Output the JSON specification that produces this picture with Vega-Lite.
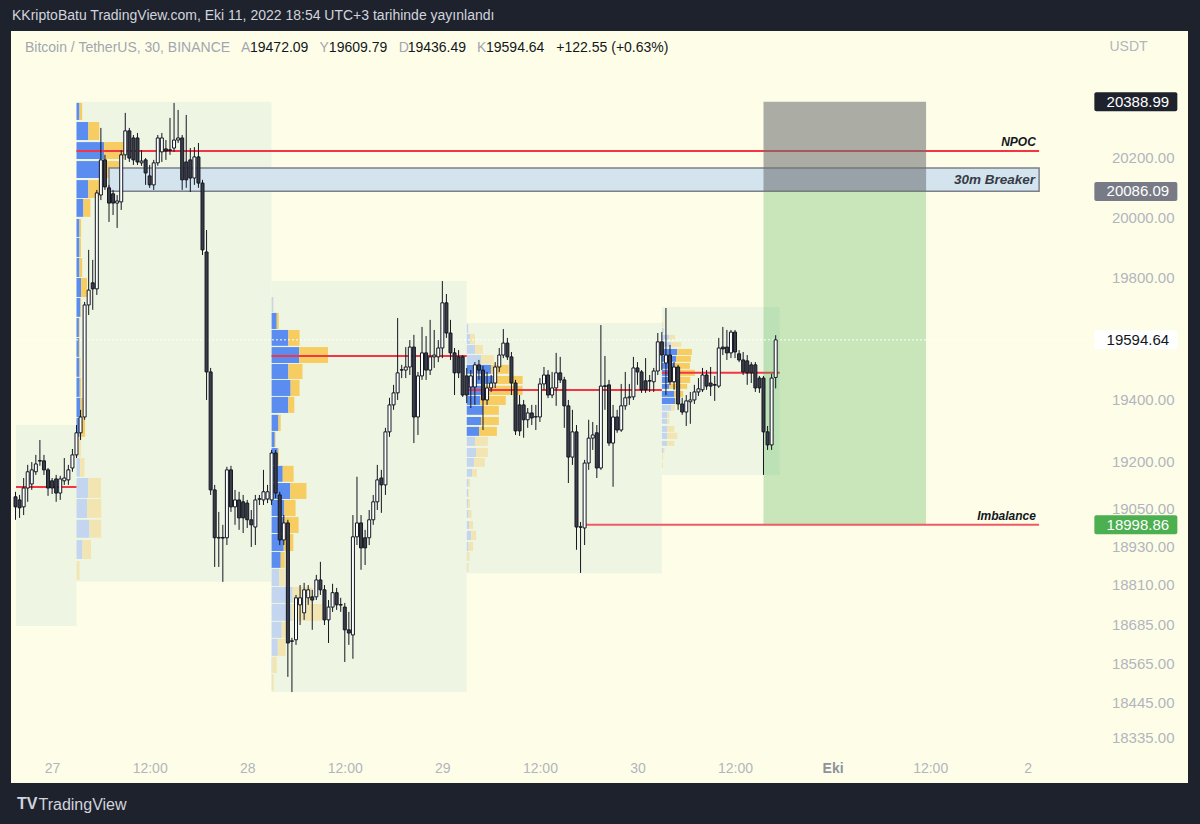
{
"$schema": "https://vega.github.io/schema/vega-lite/v6.json",
"width": 1177, "height": 752,
"autosize": {"type": "none"},
"padding": {"left": 11, "top": 31, "right": 12, "bottom": 41},
"background": "#1e222d",
"title": {"text": "KKriptoBatu TradingView.com, Eki 11, 2022 18:54 UTC+3 tarihinde yayınlandı", "anchor": "start", "frame": "group", "color": "#d1d4dc", "fontSize": 14, "fontWeight": "normal", "font": "Liberation Sans", "offset": 8, "dx": 1},
"config": {"view": {"fill": "#fefee8", "stroke": null}, "font": "Liberation Sans", "axis": {"grid": false, "domain": false, "ticks": false}},
"datasets": {
"sessions": [
{"t":-4.44,"t2":3,"p":18681,"p2":19318},
{"t":3,"t2":27,"p":18819,"p2":20389},
{"t":27,"t2":51,"p":18476,"p2":19788},
{"t":51,"t2":75,"p":18845,"p2":19650},
{"t":75,"t2":89.5,"p":19158,"p2":19702}],
"profile": [
{"s":3,"p":20385,"p2":20327,"b":3.37,"e":3.70,"va":1},
{"s":3,"p":20320,"p2":20259,"b":4.46,"e":5.80,"va":1},
{"s":3,"p":20252,"p2":20195,"b":6.41,"e":8.85,"va":1},
{"s":3,"p":20188,"p2":20131,"b":5.80,"e":8.24,"va":1},
{"s":3,"p":20124,"p2":20064,"b":4.46,"e":5.80,"va":1},
{"s":3,"p":20061,"p2":20001,"b":3.85,"e":4.71,"va":1},
{"s":3,"p":19994,"p2":19934,"b":3.37,"e":3.57,"va":1},
{"s":3,"p":19931,"p2":19867,"b":3.37,"e":3.55,"va":1},
{"s":3,"p":19864,"p2":19801,"b":3.37,"e":3.70,"va":1},
{"s":3,"p":19798,"p2":19735,"b":3.57,"e":4.30,"va":1},
{"s":3,"p":19732,"p2":19670,"b":3.49,"e":3.57,"va":1},
{"s":3,"p":19666,"p2":19604,"b":3.30,"e":3.39,"va":1},
{"s":3,"p":19601,"p2":19539,"b":3.30,"e":3.40,"va":1},
{"s":3,"p":19536,"p2":19474,"b":3.37,"e":3.49,"va":1},
{"s":3,"p":19471,"p2":19409,"b":3.40,"e":3.57,"va":1},
{"s":3,"p":19406,"p2":19344,"b":3.49,"e":3.77,"va":1},
{"s":3,"p":19341,"p2":19280,"b":3.37,"e":4.06,"va":1},
{"s":3,"p":19277,"p2":19215,"b":3.16,"e":3.57,"va":0},
{"s":3,"p":19212,"p2":19152,"b":3.45,"e":3.98,"va":0},
{"s":3,"p":19148,"p2":19084,"b":4.46,"e":6.01,"va":0},
{"s":3,"p":19081,"p2":19021,"b":4.30,"e":6.05,"va":0},
{"s":3,"p":19015,"p2":18958,"b":4.59,"e":6.05,"va":0},
{"s":3,"p":18951,"p2":18891,"b":3.73,"e":4.79,"va":0},
{"s":3,"p":18885,"p2":18825,"b":3.0,"e":3.37,"va":0},
{"s":27,"p":19735,"p2":19686,"b":27.21,"e":27.26,"va":0},
{"s":27,"p":19683,"p2":19630,"b":27.63,"e":27.88,"va":1},
{"s":27,"p":19627,"p2":19575,"b":29.06,"e":30.44,"va":1},
{"s":27,"p":19571,"p2":19519,"b":30.40,"e":33.94,"va":1},
{"s":27,"p":19516,"p2":19467,"b":29.06,"e":30.80,"va":1},
{"s":27,"p":19464,"p2":19412,"b":29.34,"e":30.44,"va":1},
{"s":27,"p":19409,"p2":19357,"b":29.06,"e":29.79,"va":1},
{"s":27,"p":19351,"p2":19299,"b":27.84,"e":28.12,"va":1},
{"s":27,"p":19296,"p2":19247,"b":27.39,"e":27.48,"va":1},
{"s":27,"p":19244,"p2":19190,"b":27.76,"e":27.88,"va":1},
{"s":27,"p":19187,"p2":19136,"b":28.37,"e":29.71,"va":1},
{"s":27,"p":19132,"p2":19081,"b":29.30,"e":31.29,"va":1},
{"s":27,"p":19078,"p2":19027,"b":28.57,"e":29.95,"va":1},
{"s":27,"p":19024,"p2":18973,"b":28.57,"e":30.32,"va":1},
{"s":27,"p":18970,"p2":18916,"b":28.49,"e":29.67,"va":1},
{"s":27,"p":18913,"p2":18863,"b":28.12,"e":28.61,"va":1},
{"s":27,"p":18860,"p2":18806,"b":27.96,"e":28.61,"va":0},
{"s":27,"p":18803,"p2":18753,"b":29.59,"e":32.02,"va":0},
{"s":27,"p":18750,"p2":18697,"b":29.46,"e":33.24,"va":0},
{"s":27,"p":18694,"p2":18644,"b":28.24,"e":29.06,"va":0},
{"s":27,"p":18641,"p2":18588,"b":27.76,"e":28.73,"va":0},
{"s":27,"p":18585,"p2":18535,"b":27.09,"e":27.63,"va":0},
{"s":27,"p":18532,"p2":18480,"b":27.02,"e":27.26,"va":0},
{"s":51,"p":19647,"p2":19617,"b":51.17,"e":51.2,"va":0},
{"s":51,"p":19614,"p2":19581,"b":51.41,"e":52.02,"va":0},
{"s":51,"p":19578,"p2":19549,"b":52.02,"e":52.99,"va":0},
{"s":51,"p":19545,"p2":19516,"b":52.76,"e":54.34,"va":0},
{"s":51,"p":19513,"p2":19484,"b":53.98,"e":56.17,"va":1},
{"s":51,"p":19477,"p2":19451,"b":54.22,"e":57.88,"va":1},
{"s":51,"p":19445,"p2":19415,"b":52.99,"e":57.88,"va":1},
{"s":51,"p":19412,"p2":19383,"b":52.63,"e":55.80,"va":1},
{"s":51,"p":19380,"p2":19351,"b":52.99,"e":54.95,"va":1},
{"s":51,"p":19344,"p2":19318,"b":52.76,"e":54.95,"va":1},
{"s":51,"p":19312,"p2":19283,"b":52.51,"e":54.71,"va":1},
{"s":51,"p":19280,"p2":19251,"b":52.02,"e":53.60,"va":0},
{"s":51,"p":19244,"p2":19215,"b":52.15,"e":53.60,"va":0},
{"s":51,"p":19212,"p2":19184,"b":51.90,"e":53.24,"va":0},
{"s":51,"p":19177,"p2":19152,"b":51.66,"e":52.27,"va":0},
{"s":51,"p":19145,"p2":19120,"b":51.23,"e":51.41,"va":0},
{"s":51,"p":19113,"p2":19088,"b":51.17,"e":51.29,"va":0},
{"s":51,"p":19081,"p2":19053,"b":51.17,"e":51.41,"va":0},
{"s":51,"p":19046,"p2":19021,"b":51.23,"e":51.60,"va":0},
{"s":51,"p":19011,"p2":18986,"b":51.29,"e":51.78,"va":0},
{"s":51,"p":18980,"p2":18951,"b":51.54,"e":52.15,"va":0},
{"s":51,"p":18945,"p2":18916,"b":51.23,"e":51.78,"va":0},
{"s":51,"p":18913,"p2":18885,"b":51.05,"e":51.35,"va":0},
{"s":51,"p":18879,"p2":18850,"b":51.05,"e":51.23,"va":0},
{"s":75,"p":19653,"p2":19637,"b":75.01,"e":75.2,"va":0},
{"s":75,"p":19634,"p2":19617,"b":75.23,"e":75.25,"va":0},
{"s":75,"p":19611,"p2":19594,"b":75.93,"e":76.62,"va":0},
{"s":75,"p":19588,"p2":19571,"b":76.17,"e":77.39,"va":0},
{"s":75,"p":19565,"p2":19545,"b":76.90,"e":78.70,"va":1},
{"s":75,"p":19542,"p2":19523,"b":76.74,"e":78.57,"va":1},
{"s":75,"p":19519,"p2":19500,"b":76.54,"e":78.45,"va":1},
{"s":75,"p":19497,"p2":19477,"b":76.29,"e":79.06,"va":1},
{"s":75,"p":19474,"p2":19454,"b":75.93,"e":78.49,"va":1},
{"s":75,"p":19451,"p2":19435,"b":75.93,"e":78.12,"va":1},
{"s":75,"p":19428,"p2":19409,"b":76.54,"e":77.63,"va":1},
{"s":75,"p":19406,"p2":19386,"b":76.62,"e":76.90,"va":1},
{"s":75,"p":19383,"p2":19364,"b":76.17,"e":76.62,"va":0},
{"s":75,"p":19360,"p2":19341,"b":75.68,"e":75.93,"va":0},
{"s":75,"p":19338,"p2":19322,"b":75.65,"e":75.93,"va":0},
{"s":75,"p":19315,"p2":19296,"b":75.68,"e":76.54,"va":0},
{"s":75,"p":19293,"p2":19273,"b":75.68,"e":76.90,"va":0},
{"s":75,"p":19267,"p2":19251,"b":75.65,"e":76.54,"va":0},
{"s":75,"p":19244,"p2":19228,"b":75.20,"e":75.32,"va":0},
{"s":75,"p":19225,"p2":19206,"b":75.0,"e":75.16,"va":0},
{"s":75,"p":19199,"p2":19180,"b":75.0,"e":75.13,"va":0}],
"lines": [
{"t":-4.44,"t2":3,"p":19119.5,"k":"poc"},
{"t":3,"t2":121.4,"p":20222,"k":"poc"},
{"t":27,"t2":51,"p":19542,"k":"poc"},
{"t":51,"t2":75,"p":19431.5,"k":"poc"},
{"t":75,"t2":89.5,"p":19487,"k":"poc"},
{"t":65.3,"t2":121.4,"p":18999,"k":"imb"}],
"breaker": [{"t":7.0,"t2":121.4,"p":20087,"p2":20165}],
"position": [
{"t":87.5,"t2":107.5,"p":20086.09,"p2":20388.99,"k":"stop"},
{"t":87.5,"t2":107.5,"p":18998.86,"p2":20086.09,"k":"target"}],
"lastprice": [{"t":-4.44,"t2":127.3,"p":19594.64}],
"candles": [
{"t":-4.5,"o":19088,"h":19104,"l":19015,"c":19056},
{"t":-4.0,"o":19078,"h":19094,"l":19021,"c":19053},
{"t":-3.5,"o":19056,"h":19148,"l":19030,"c":19116},
{"t":-3.0,"o":19116,"h":19190,"l":19072,"c":19168},
{"t":-2.5,"o":19129,"h":19199,"l":19110,"c":19174},
{"t":-2.0,"o":19168,"h":19222,"l":19158,"c":19193},
{"t":-1.5,"o":19202,"h":19270,"l":19187,"c":19204},
{"t":-1.0,"o":19203,"h":19222,"l":19158,"c":19174},
{"t":-0.5,"o":19174,"h":19180,"l":19091,"c":19116},
{"t":0.0,"o":19139,"h":19148,"l":19097,"c":19116},
{"t":0.5,"o":19145,"h":19158,"l":19072,"c":19100},
{"t":1.0,"o":19100,"h":19155,"l":19078,"c":19145},
{"t":1.5,"o":19139,"h":19212,"l":19126,"c":19148},
{"t":2.0,"o":19142,"h":19190,"l":19126,"c":19174},
{"t":2.5,"o":19180,"h":19241,"l":19168,"c":19222},
{"t":3.0,"o":19222,"h":19318,"l":19212,"c":19293},
{"t":3.5,"o":19293,"h":19367,"l":19270,"c":19344},
{"t":4.0,"o":19344,"h":19719,"l":19335,"c":19709},
{"t":4.5,"o":19709,"h":19891,"l":19676,"c":19758},
{"t":5.0,"o":19782,"h":19858,"l":19693,"c":19762},
{"t":5.5,"o":19762,"h":20091,"l":19742,"c":20081},
{"t":6.0,"o":20074,"h":20300,"l":20057,"c":20192},
{"t":6.5,"o":20192,"h":20209,"l":20091,"c":20101},
{"t":7.0,"o":20098,"h":20108,"l":19984,"c":20047},
{"t":7.5,"o":20078,"h":20091,"l":20007,"c":20047},
{"t":8.0,"o":20047,"h":20074,"l":19964,"c":20054},
{"t":8.5,"o":20051,"h":20225,"l":20024,"c":20209},
{"t":9.0,"o":20209,"h":20351,"l":20192,"c":20290},
{"t":9.5,"o":20290,"h":20300,"l":20185,"c":20198},
{"t":10.0,"o":20266,"h":20276,"l":20175,"c":20192},
{"t":10.5,"o":20266,"h":20283,"l":20175,"c":20185},
{"t":11.0,"o":20182,"h":20225,"l":20172,"c":20188},
{"t":11.5,"o":20192,"h":20198,"l":20108,"c":20148},
{"t":12.0,"o":20138,"h":20175,"l":20098,"c":20108},
{"t":12.5,"o":20108,"h":20192,"l":20091,"c":20182},
{"t":13.0,"o":20182,"h":20276,"l":20172,"c":20266},
{"t":13.5,"o":20219,"h":20283,"l":20185,"c":20266},
{"t":14.0,"o":20229,"h":20259,"l":20192,"c":20222},
{"t":14.5,"o":20226,"h":20334,"l":20209,"c":20224},
{"t":15.0,"o":20232,"h":20385,"l":20219,"c":20259},
{"t":15.5,"o":20259,"h":20361,"l":20249,"c":20266},
{"t":16.0,"o":20266,"h":20276,"l":20091,"c":20125},
{"t":16.5,"o":20185,"h":20344,"l":20098,"c":20125},
{"t":17.0,"o":20192,"h":20232,"l":20084,"c":20131},
{"t":17.5,"o":20131,"h":20235,"l":20108,"c":20202},
{"t":18.0,"o":20202,"h":20249,"l":20098,"c":20114},
{"t":18.5,"o":20114,"h":20125,"l":19874,"c":19891},
{"t":19.0,"o":19884,"h":19957,"l":19399,"c":19490},
{"t":19.5,"o":19490,"h":19503,"l":19094,"c":19110},
{"t":20.0,"o":19110,"h":19126,"l":18866,"c":18958},
{"t":20.5,"o":18957,"h":19040,"l":18866,"c":18959},
{"t":21.0,"o":18959,"h":18999,"l":18819,"c":18957},
{"t":21.5,"o":18958,"h":19184,"l":18935,"c":19174},
{"t":22.0,"o":19174,"h":19187,"l":19040,"c":19056},
{"t":22.5,"o":19056,"h":19110,"l":18999,"c":19078},
{"t":23.0,"o":19078,"h":19104,"l":18983,"c":19021},
{"t":23.5,"o":19072,"h":19094,"l":18973,"c":19021},
{"t":24.0,"o":19068,"h":19078,"l":18989,"c":19015},
{"t":24.5,"o":19015,"h":19046,"l":18929,"c":18999},
{"t":25.0,"o":18992,"h":19094,"l":18935,"c":19078},
{"t":25.5,"o":19080,"h":19094,"l":19062,"c":19082},
{"t":26.0,"o":19078,"h":19174,"l":19062,"c":19104},
{"t":26.5,"o":19081,"h":19126,"l":19068,"c":19104},
{"t":27.0,"o":19078,"h":19238,"l":19062,"c":19228},
{"t":27.5,"o":19228,"h":19238,"l":19084,"c":19100},
{"t":28.0,"o":19094,"h":19104,"l":18935,"c":18951},
{"t":28.5,"o":18951,"h":19030,"l":18935,"c":19005},
{"t":29.0,"o":19005,"h":19015,"l":18523,"c":18628},
{"t":29.5,"o":18633,"h":18644,"l":18476,"c":18635},
{"t":30.0,"o":18638,"h":18778,"l":18622,"c":18769},
{"t":30.5,"o":18747,"h":18809,"l":18684,"c":18769},
{"t":31.0,"o":18722,"h":18816,"l":18700,"c":18794},
{"t":31.5,"o":18769,"h":18809,"l":18747,"c":18794},
{"t":32.0,"o":18772,"h":18794,"l":18669,"c":18762},
{"t":32.5,"o":18772,"h":18841,"l":18762,"c":18825},
{"t":33.0,"o":18825,"h":18882,"l":18778,"c":18794},
{"t":33.5,"o":18794,"h":18809,"l":18684,"c":18700},
{"t":34.0,"o":18700,"h":18762,"l":18628,"c":18740},
{"t":34.5,"o":18740,"h":18813,"l":18725,"c":18785},
{"t":35.0,"o":18785,"h":18800,"l":18731,"c":18747},
{"t":35.5,"o":18746,"h":18769,"l":18725,"c":18748},
{"t":36.0,"o":18740,"h":18753,"l":18569,"c":18669},
{"t":36.5,"o":18669,"h":18725,"l":18622,"c":18659},
{"t":37.0,"o":18653,"h":19030,"l":18579,"c":18961},
{"t":37.5,"o":18961,"h":19152,"l":18935,"c":19005},
{"t":38.0,"o":19005,"h":19030,"l":18857,"c":18926},
{"t":38.5,"o":18958,"h":18983,"l":18872,"c":18926},
{"t":39.0,"o":18958,"h":19046,"l":18935,"c":19015},
{"t":39.5,"o":19015,"h":19094,"l":18999,"c":19072},
{"t":40.0,"o":19072,"h":19190,"l":19046,"c":19142},
{"t":40.5,"o":19148,"h":19174,"l":19037,"c":19126},
{"t":41.0,"o":19126,"h":19309,"l":19094,"c":19296},
{"t":41.5,"o":19296,"h":19406,"l":19280,"c":19383},
{"t":42.0,"o":19383,"h":19448,"l":19367,"c":19422},
{"t":42.5,"o":19422,"h":19666,"l":19399,"c":19487},
{"t":43.0,"o":19497,"h":19513,"l":19470,"c":19496},
{"t":43.5,"o":19496,"h":19571,"l":19470,"c":19506},
{"t":44.0,"o":19506,"h":19594,"l":19480,"c":19571},
{"t":44.5,"o":19571,"h":19611,"l":19260,"c":19344},
{"t":45.0,"o":19344,"h":19490,"l":19286,"c":19477},
{"t":45.5,"o":19477,"h":19637,"l":19464,"c":19552},
{"t":46.0,"o":19552,"h":19607,"l":19464,"c":19496},
{"t":46.5,"o":19496,"h":19660,"l":19480,"c":19539},
{"t":47.0,"o":19539,"h":19627,"l":19503,"c":19545},
{"t":47.5,"o":19539,"h":19594,"l":19522,"c":19568},
{"t":48.0,"o":19568,"h":19788,"l":19535,"c":19716},
{"t":48.5,"o":19716,"h":19745,"l":19601,"c":19617},
{"t":49.0,"o":19617,"h":19660,"l":19529,"c":19552},
{"t":49.5,"o":19552,"h":19568,"l":19415,"c":19487},
{"t":50.0,"o":19539,"h":19561,"l":19470,"c":19487},
{"t":50.5,"o":19539,"h":19545,"l":19409,"c":19415},
{"t":51.0,"o":19477,"h":19503,"l":19389,"c":19415},
{"t":51.5,"o":19441,"h":19496,"l":19373,"c":19477},
{"t":52.0,"o":19441,"h":19522,"l":19383,"c":19513},
{"t":52.5,"o":19513,"h":19529,"l":19464,"c":19496},
{"t":53.0,"o":19496,"h":19510,"l":19302,"c":19399},
{"t":53.5,"o":19399,"h":19490,"l":19383,"c":19438},
{"t":54.0,"o":19438,"h":19480,"l":19425,"c":19454},
{"t":54.5,"o":19454,"h":19522,"l":19438,"c":19506},
{"t":55.0,"o":19506,"h":19568,"l":19490,"c":19545},
{"t":55.5,"o":19545,"h":19630,"l":19535,"c":19584},
{"t":56.0,"o":19584,"h":19601,"l":19529,"c":19539},
{"t":56.5,"o":19539,"h":19555,"l":19415,"c":19454},
{"t":57.0,"o":19454,"h":19464,"l":19286,"c":19299},
{"t":57.5,"o":19383,"h":19415,"l":19283,"c":19299},
{"t":58.0,"o":19383,"h":19399,"l":19277,"c":19335},
{"t":58.5,"o":19335,"h":19373,"l":19309,"c":19357},
{"t":59.0,"o":19357,"h":19383,"l":19318,"c":19341},
{"t":59.5,"o":19344,"h":19383,"l":19302,"c":19345},
{"t":60.0,"o":19344,"h":19470,"l":19328,"c":19451},
{"t":60.5,"o":19451,"h":19506,"l":19432,"c":19480},
{"t":61.0,"o":19480,"h":19496,"l":19405,"c":19415},
{"t":61.5,"o":19415,"h":19490,"l":19405,"c":19438},
{"t":62.0,"o":19438,"h":19552,"l":19380,"c":19487},
{"t":62.5,"o":19487,"h":19539,"l":19454,"c":19464},
{"t":63.0,"o":19464,"h":19474,"l":19309,"c":19380},
{"t":63.5,"o":19380,"h":19399,"l":19132,"c":19215},
{"t":64.0,"o":19215,"h":19367,"l":19190,"c":19296},
{"t":64.5,"o":19296,"h":19318,"l":18920,"c":18992},
{"t":65.0,"o":18991,"h":19008,"l":18847,"c":18993},
{"t":65.5,"o":18989,"h":19206,"l":18935,"c":19196},
{"t":66.0,"o":19196,"h":19335,"l":19174,"c":19276},
{"t":66.5,"o":19276,"h":19328,"l":19238,"c":19286},
{"t":67.0,"o":19293,"h":19318,"l":19148,"c":19180},
{"t":67.5,"o":19180,"h":19643,"l":19174,"c":19444},
{"t":68.0,"o":19445,"h":19542,"l":19367,"c":19443},
{"t":68.5,"o":19448,"h":19464,"l":19251,"c":19260},
{"t":69.0,"o":19260,"h":19383,"l":19120,"c":19344},
{"t":69.5,"o":19344,"h":19367,"l":19293,"c":19302},
{"t":70.0,"o":19302,"h":19451,"l":19296,"c":19380},
{"t":70.5,"o":19380,"h":19490,"l":19367,"c":19406},
{"t":71.0,"o":19406,"h":19451,"l":19383,"c":19409},
{"t":71.5,"o":19409,"h":19539,"l":19399,"c":19503},
{"t":72.0,"o":19503,"h":19522,"l":19448,"c":19490},
{"t":72.5,"o":19490,"h":19496,"l":19422,"c":19432},
{"t":73.0,"o":19461,"h":19535,"l":19422,"c":19432},
{"t":73.5,"o":19460,"h":19480,"l":19425,"c":19462},
{"t":74.0,"o":19458,"h":19503,"l":19425,"c":19493},
{"t":74.5,"o":19493,"h":19617,"l":19480,"c":19588},
{"t":75.0,"o":19588,"h":19620,"l":19496,"c":19545},
{"t":75.5,"o":19519,"h":19699,"l":19415,"c":19545},
{"t":76.0,"o":19545,"h":19578,"l":19448,"c":19458},
{"t":76.5,"o":19458,"h":19522,"l":19432,"c":19506},
{"t":77.0,"o":19506,"h":19513,"l":19367,"c":19386},
{"t":77.5,"o":19386,"h":19406,"l":19351,"c":19360},
{"t":78.0,"o":19360,"h":19415,"l":19315,"c":19396},
{"t":78.5,"o":19393,"h":19425,"l":19322,"c":19399},
{"t":79.0,"o":19399,"h":19448,"l":19386,"c":19425},
{"t":79.5,"o":19425,"h":19470,"l":19412,"c":19435},
{"t":80.0,"o":19432,"h":19503,"l":19425,"c":19480},
{"t":80.5,"o":19480,"h":19496,"l":19432,"c":19444},
{"t":81.0,"o":19454,"h":19506,"l":19412,"c":19444},
{"t":81.5,"o":19449,"h":19477,"l":19396,"c":19447},
{"t":82.0,"o":19444,"h":19601,"l":19438,"c":19568},
{"t":82.5,"o":19571,"h":19637,"l":19545,"c":19565},
{"t":83.0,"o":19571,"h":19627,"l":19529,"c":19552},
{"t":83.5,"o":19552,"h":19627,"l":19535,"c":19620},
{"t":84.0,"o":19620,"h":19627,"l":19535,"c":19555},
{"t":84.5,"o":19549,"h":19561,"l":19522,"c":19529},
{"t":85.0,"o":19529,"h":19555,"l":19480,"c":19490},
{"t":85.5,"o":19526,"h":19545,"l":19448,"c":19487},
{"t":86.0,"o":19513,"h":19522,"l":19454,"c":19487},
{"t":86.5,"o":19513,"h":19522,"l":19425,"c":19438},
{"t":87.0,"o":19470,"h":19477,"l":19422,"c":19438},
{"t":87.5,"o":19470,"h":19477,"l":19158,"c":19296},
{"t":88.0,"o":19296,"h":19315,"l":19238,"c":19254},
{"t":88.5,"o":19254,"h":19484,"l":19238,"c":19470},
{"t":89.0,"o":19472.09,"h":19609.79,"l":19436.49,"c":19594.64}],
"labels": [
{"t":121.0,"p":20252,"txt":"NPOC","k":"npoc"},
{"t":120.9,"p":20124.5,"txt":"30m Breaker","k":"breaker"},
{"t":121.0,"p":19027,"txt":"Imbalance","k":"imb"}],
"header": [
{"t":-3.34,"p":20572,"txt":"Bitcoin / TetherUS, 30, BINANCE","k":"g"},
{"t":23.24,"p":20572,"txt":"A","k":"g"},
{"t":24.34,"p":20572,"txt":"19472.09","k":"v"},
{"t":32.88,"p":20572,"txt":"Y","k":"g"},
{"t":34.04,"p":20572,"txt":"19609.79","k":"v"},
{"t":42.63,"p":20572,"txt":"D","k":"g"},
{"t":43.73,"p":20572,"txt":"19436.49","k":"v"},
{"t":52.27,"p":20572,"txt":"K","k":"g"},
{"t":53.37,"p":20572,"txt":"19594.64","k":"v"},
{"t":62.02,"p":20572,"txt":"+122.55 (+0.63%)","k":"v"}],
"logo": [{"t":-4.33,"p":18134,"txt":"TV"}],
"badges": [
{"t":133.3,"p":20388.99,"txt":"20388.99","k":"stop"},
{"t":133.3,"p":20086.09,"txt":"20086.09","k":"entry"},
{"t":133.3,"p":19594.64,"txt":"19594.64","k":"last"},
{"t":133.3,"p":18998.86,"txt":"18998.86","k":"target"}]
},
"layer": [
{"data": {"name": "sessions"}, "mark": {"type": "rect", "color": "#eef6e3"},
 "encoding": {
  "x": {"field": "t", "type": "quantitative", "scale": {"domain": [-4.44, 139.1], "nice": false, "zero": false},
   "axis": {"orient": "bottom", "offset": -15, "zindex": 1, "values": [0,12,24,36,48,60,72,84,96,108,120],
    "labelExpr": "datum.value == 96 ? 'Eki' : datum.value == 120 ? '2' : datum.value % 24 == 12 ? '12:00' : '' + (27 + datum.value / 24)",
    "domain": false, "ticks": false, "grid": false, "labelPadding": 0, "labelBaseline": "middle", "labelFlush": false, "labelOverlap": false,
    "labelColor": {"condition": {"test": "datum.value == 96", "value": "#8f929c"}, "value": "#b2b5be"},
    "labelFontWeight": {"condition": {"test": "datum.value == 96", "value": "bold"}, "value": "normal"},
    "labelFontSize": 14, "labelFont": "Liberation Sans",
    "title": "TradingView", "titleX": 27, "titleY": 36, "titleAlign": "left", "titleAnchor": "start", "titleBaseline": "middle",
    "titleColor": "#d1d4dc", "titleFontSize": 16, "titleFontWeight": "normal", "titleFont": "Liberation Sans"}},
  "x2": {"field": "t2"},
  "y": {"field": "p", "type": "quantitative", "scale": {"type": "log", "domain": [18197.8, 20631], "nice": false, "zero": false},
   "axis": {"orient": "right", "offset": -14, "zindex": 1, "values": [20200,20000,19800,19400,19200,19050,18930,18810,18685,18565,18445,18335],
    "format": ".2f", "labelAlign": "right", "labelPadding": 0, "labelBaseline": "middle", "domain": false, "ticks": false, "grid": false,
    "labelColor": "#b2b5be", "labelFontSize": 15, "labelFont": "Liberation Sans", "labelFlush": false, "labelOverlap": false,
    "title": "USDT", "titleAngle": 0, "titleX": -46, "titleY": 15, "titleAlign": "center", "titleBaseline": "middle",
    "titleColor": "#b2b5be", "titleFontSize": 14, "titleFontWeight": "normal", "titleFont": "Liberation Sans"}},
  "y2": {"field": "p2"}}},
{"data": {"name": "profile"}, "mark": {"type": "rect"},
 "encoding": {
  "x": {"field": "s", "type": "quantitative"}, "x2": {"field": "b"},
  "y": {"field": "p", "type": "quantitative"}, "y2": {"field": "p2"},
  "color": {"condition": {"test": "datum.va == 1", "value": "#5b8cf0"}, "value": "#c3d5ef"}}},
{"data": {"name": "profile"}, "mark": {"type": "rect"},
 "encoding": {
  "x": {"field": "b", "type": "quantitative"}, "x2": {"field": "e"},
  "y": {"field": "p", "type": "quantitative"}, "y2": {"field": "p2"},
  "color": {"condition": {"test": "datum.va == 1", "value": "#f7cd62"}, "value": "#f2e5b2"}}},
{"data": {"name": "lines"}, "transform": [{"filter": "datum.k == 'poc'"}], "mark": {"type": "rule", "color": "#f23645", "strokeWidth": 2},
 "encoding": {"x": {"field": "t", "type": "quantitative"}, "x2": {"field": "t2"}, "y": {"field": "p", "type": "quantitative"}}},
{"data": {"name": "breaker"}, "mark": {"type": "rect", "fill": "#d3e4ee", "stroke": "#7c7f88", "strokeWidth": 1.5},
 "encoding": {"x": {"field": "t", "type": "quantitative"}, "x2": {"field": "t2"}, "y": {"field": "p", "type": "quantitative"}, "y2": {"field": "p2"}}},
{"data": {"name": "position"}, "mark": {"type": "rect"},
 "encoding": {"x": {"field": "t", "type": "quantitative"}, "x2": {"field": "t2"}, "y": {"field": "p", "type": "quantitative"}, "y2": {"field": "p2"},
  "color": {"condition": {"test": "datum.k == 'stop'", "value": "#6f7175"}, "value": "#4caf50"},
  "opacity": {"condition": {"test": "datum.k == 'stop'", "value": 0.58}, "value": 0.3}}},
{"data": {"name": "lines"}, "transform": [{"filter": "datum.k == 'imb'"}], "mark": {"type": "rule", "color": "#f05a64", "strokeWidth": 2},
 "encoding": {"x": {"field": "t", "type": "quantitative"}, "x2": {"field": "t2"}, "y": {"field": "p", "type": "quantitative"}}},
{"data": {"name": "lastprice"}, "mark": {"type": "rule", "color": "#ffffff", "strokeWidth": 1, "strokeDash": [2, 2]},
 "encoding": {"x": {"field": "t", "type": "quantitative"}, "x2": {"field": "t2"}, "y": {"field": "p", "type": "quantitative"}}},
{"data": {"name": "candles"}, "mark": {"type": "rule", "color": "#131722", "strokeWidth": 1, "clip": true},
 "encoding": {"x": {"field": "t", "type": "quantitative"}, "y": {"field": "l", "type": "quantitative"}, "y2": {"field": "h"}}},
{"data": {"name": "candles"}, "mark": {"type": "bar", "size": 3, "stroke": "#131722", "strokeWidth": 1, "clip": true},
 "encoding": {"x": {"field": "t", "type": "quantitative"}, "y": {"field": "o", "type": "quantitative"}, "y2": {"field": "c"},
  "color": {"condition": {"test": "datum.c >= datum.o", "value": "#ffffff"}, "value": "#3a3d47"}}},
{"data": {"name": "labels"}, "mark": {"type": "text", "align": "right", "baseline": "middle", "fontStyle": "italic", "fontWeight": "bold", "font": "Liberation Sans"},
 "encoding": {"x": {"field": "t", "type": "quantitative"}, "y": {"field": "p", "type": "quantitative"}, "text": {"field": "txt"},
  "color": {"condition": {"test": "datum.k == 'breaker'", "value": "#363a45"}, "value": "#131722"},
  "size": {"condition": {"test": "datum.k == 'breaker'", "value": 13.5}, "value": 12}}},
{"data": {"name": "header"}, "mark": {"type": "text", "align": "left", "baseline": "middle", "fontSize": 14, "font": "Liberation Sans"},
 "encoding": {"x": {"field": "t", "type": "quantitative"}, "y": {"field": "p", "type": "quantitative"}, "text": {"field": "txt"},
  "color": {"condition": {"test": "datum.k == 'g'", "value": "#a3a6af"}, "value": "#131722"}}},
{"data": {"name": "logo"}, "mark": {"type": "text", "align": "left", "baseline": "middle", "fontSize": 16, "fontWeight": 900, "font": "Liberation Sans", "color": "#d1d4dc"},
 "encoding": {"x": {"field": "t", "type": "quantitative"}, "y": {"field": "p", "type": "quantitative"}, "text": {"field": "txt"}}},
{"data": {"name": "badges"}, "mark": {"type": "tick", "orient": "horizontal", "size": 83, "thickness": 19, "cornerRadius": 2},
 "encoding": {"x": {"field": "t", "type": "quantitative"}, "y": {"field": "p", "type": "quantitative"},
  "color": {"field": "k", "type": "nominal", "legend": null, "scale": {"domain": ["stop", "entry", "last", "target"], "range": ["#1e222d", "#787b86", "#ffffff", "#4caf50"]}},
  "opacity": {"value": 1}}},
{"data": {"name": "badges"}, "mark": {"type": "text", "align": "center", "baseline": "middle", "fontSize": 15, "dx": 2, "font": "Liberation Sans"},
 "encoding": {"x": {"field": "t", "type": "quantitative"}, "y": {"field": "p", "type": "quantitative"}, "text": {"field": "txt"},
  "color": {"condition": {"test": "datum.k == 'last'", "value": "#131722"}, "value": "#ffffff"}}}
]
}
